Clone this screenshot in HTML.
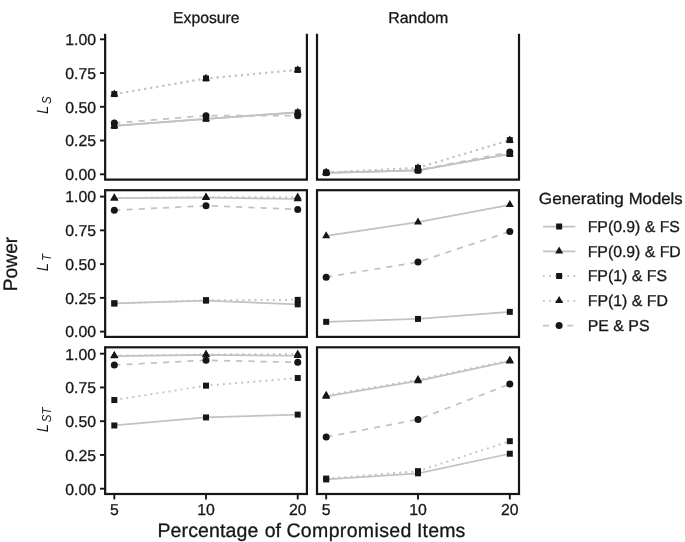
<!DOCTYPE html>
<html lang="en"><head><meta charset="utf-8"><title>Power by Percentage of Compromised Items</title>
<style>html,body{margin:0;padding:0;background:#fff}body{width:685px;height:542px;overflow:hidden}</style></head>
<body>
<svg width="685" height="542" viewBox="0 0 685 542" style="display:block" text-rendering="geometricPrecision">
<rect width="685" height="542" fill="#ffffff"/>
<g fill="none" stroke="#c2c2c2" stroke-width="1.75">
<polyline points="114.32,125.96 206.02,118.80 297.73,112.46"/>
<polyline points="114.32,125.96 206.02,118.80 297.73,112.46"/>
<polyline points="114.32,94.10 206.02,78.44 297.73,69.93" stroke-width="1.9" stroke-dasharray="1.9 4.2"/>
<polyline points="114.32,94.10 206.02,78.44 297.73,69.93" stroke-width="1.9" stroke-dasharray="1.9 4.2"/>
<polyline points="114.32,122.99 206.02,115.70 297.73,115.70" stroke-dasharray="6.1 6.1"/>
</g>
<rect x="111.32" y="122.96" width="6.0" height="6.0" fill="#161616"/>
<rect x="203.02" y="115.80" width="6.0" height="6.0" fill="#161616"/>
<rect x="294.73" y="109.46" width="6.0" height="6.0" fill="#161616"/>
<polygon points="114.32,121.29 118.36,128.29 110.28,128.29" fill="#161616"/>
<polygon points="206.02,114.13 210.07,121.14 201.98,121.14" fill="#161616"/>
<polygon points="297.73,107.79 301.77,114.79 293.69,114.79" fill="#161616"/>
<rect x="111.32" y="91.10" width="6.0" height="6.0" fill="#161616"/>
<rect x="203.02" y="75.44" width="6.0" height="6.0" fill="#161616"/>
<rect x="294.73" y="66.93" width="6.0" height="6.0" fill="#161616"/>
<polygon points="114.32,89.43 118.36,96.43 110.28,96.43" fill="#161616"/>
<polygon points="206.02,73.77 210.07,80.77 201.98,80.77" fill="#161616"/>
<polygon points="297.73,65.26 301.77,72.27 293.69,72.27" fill="#161616"/>
<circle cx="114.32" cy="122.99" r="3.5" fill="#161616"/>
<circle cx="206.02" cy="115.70" r="3.5" fill="#161616"/>
<circle cx="297.73" cy="115.70" r="3.5" fill="#161616"/>
<path d="M105.15,33.85 V179.7 H306.9 V33.85" fill="none" stroke="#161616" stroke-width="2.2"/>
<g fill="none" stroke="#c2c2c2" stroke-width="1.75">
<polyline points="326.18,172.76 418.00,170.47 509.82,154.00"/>
<polyline points="326.18,172.76 418.00,170.47 509.82,154.00"/>
<polyline points="326.18,172.50 418.00,167.91 509.82,140.09" stroke-width="1.9" stroke-dasharray="1.9 4.2"/>
<polyline points="326.18,172.50 418.00,167.91 509.82,140.09" stroke-width="1.9" stroke-dasharray="1.9 4.2"/>
<polyline points="326.18,172.63 418.00,170.20 509.82,152.11" stroke-dasharray="6.1 6.1"/>
</g>
<rect x="323.18" y="169.76" width="6.0" height="6.0" fill="#161616"/>
<rect x="415.00" y="167.47" width="6.0" height="6.0" fill="#161616"/>
<rect x="506.82" y="151.00" width="6.0" height="6.0" fill="#161616"/>
<polygon points="326.18,168.09 330.23,175.10 322.14,175.10" fill="#161616"/>
<polygon points="418.00,165.80 422.04,172.81 413.96,172.81" fill="#161616"/>
<polygon points="509.82,149.33 513.86,156.34 505.77,156.34" fill="#161616"/>
<rect x="323.18" y="169.50" width="6.0" height="6.0" fill="#161616"/>
<rect x="415.00" y="164.91" width="6.0" height="6.0" fill="#161616"/>
<rect x="506.82" y="137.09" width="6.0" height="6.0" fill="#161616"/>
<polygon points="326.18,167.83 330.23,174.83 322.14,174.83" fill="#161616"/>
<polygon points="418.00,163.24 422.04,170.24 413.96,170.24" fill="#161616"/>
<polygon points="509.82,135.43 513.86,142.43 505.77,142.43" fill="#161616"/>
<circle cx="326.18" cy="172.63" r="3.5" fill="#161616"/>
<circle cx="418.00" cy="170.20" r="3.5" fill="#161616"/>
<circle cx="509.82" cy="152.11" r="3.5" fill="#161616"/>
<path d="M317.0,33.85 V179.7 H519.0 V33.85" fill="none" stroke="#161616" stroke-width="2.2"/>
<line x1="99.95" x2="105.15" y1="174.30" y2="174.30" stroke="#161616" stroke-width="1.9"/>
<text x="96.1" y="180.10" font-family="Liberation Sans, Arial, Helvetica, sans-serif" stroke="#1a1a1a" stroke-width="0.3" font-size="15.8" text-anchor="end" fill="#161616" textLength="30.8" lengthAdjust="spacingAndGlyphs">0.00</text>
<line x1="99.95" x2="105.15" y1="140.55" y2="140.55" stroke="#161616" stroke-width="1.9"/>
<text x="96.1" y="146.35" font-family="Liberation Sans, Arial, Helvetica, sans-serif" stroke="#1a1a1a" stroke-width="0.3" font-size="15.8" text-anchor="end" fill="#161616" textLength="30.8" lengthAdjust="spacingAndGlyphs">0.25</text>
<line x1="99.95" x2="105.15" y1="106.80" y2="106.80" stroke="#161616" stroke-width="1.9"/>
<text x="96.1" y="112.60" font-family="Liberation Sans, Arial, Helvetica, sans-serif" stroke="#1a1a1a" stroke-width="0.3" font-size="15.8" text-anchor="end" fill="#161616" textLength="30.8" lengthAdjust="spacingAndGlyphs">0.50</text>
<line x1="99.95" x2="105.15" y1="73.05" y2="73.05" stroke="#161616" stroke-width="1.9"/>
<text x="96.1" y="78.85" font-family="Liberation Sans, Arial, Helvetica, sans-serif" stroke="#1a1a1a" stroke-width="0.3" font-size="15.8" text-anchor="end" fill="#161616" textLength="30.8" lengthAdjust="spacingAndGlyphs">0.75</text>
<line x1="99.95" x2="105.15" y1="39.30" y2="39.30" stroke="#161616" stroke-width="1.9"/>
<text x="96.1" y="45.10" font-family="Liberation Sans, Arial, Helvetica, sans-serif" stroke="#1a1a1a" stroke-width="0.3" font-size="15.8" text-anchor="end" fill="#161616" textLength="30.8" lengthAdjust="spacingAndGlyphs">1.00</text>
<g fill="none" stroke="#c2c2c2" stroke-width="1.75">
<polyline points="114.32,303.39 206.02,300.54 297.73,304.34"/>
<polyline points="114.32,198.16 206.02,197.62 297.73,198.97"/>
<polyline points="114.32,303.39 206.02,300.22 297.73,299.88" stroke-width="1.9" stroke-dasharray="1.9 4.2"/>
<polyline points="114.32,198.16 206.02,197.08 297.73,197.15" stroke-width="1.9" stroke-dasharray="1.9 4.2"/>
<polyline points="114.32,210.31 206.02,205.72 297.73,209.50" stroke-dasharray="6.1 6.1"/>
</g>
<rect x="111.32" y="300.39" width="6.0" height="6.0" fill="#161616"/>
<rect x="203.02" y="297.54" width="6.0" height="6.0" fill="#161616"/>
<rect x="294.73" y="301.34" width="6.0" height="6.0" fill="#161616"/>
<polygon points="114.32,193.49 118.36,200.50 110.28,200.50" fill="#161616"/>
<polygon points="206.02,192.95 210.07,199.96 201.98,199.96" fill="#161616"/>
<polygon points="297.73,194.30 301.77,201.31 293.69,201.31" fill="#161616"/>
<rect x="111.32" y="300.39" width="6.0" height="6.0" fill="#161616"/>
<rect x="203.02" y="297.22" width="6.0" height="6.0" fill="#161616"/>
<rect x="294.73" y="296.88" width="6.0" height="6.0" fill="#161616"/>
<polygon points="114.32,193.49 118.36,200.50 110.28,200.50" fill="#161616"/>
<polygon points="206.02,192.41 210.07,199.42 201.98,199.42" fill="#161616"/>
<polygon points="297.73,192.48 301.77,199.48 293.69,199.48" fill="#161616"/>
<circle cx="114.32" cy="210.31" r="3.5" fill="#161616"/>
<circle cx="206.02" cy="205.72" r="3.5" fill="#161616"/>
<circle cx="297.73" cy="209.50" r="3.5" fill="#161616"/>
<rect x="105.15" y="190.2" width="201.74999999999997" height="146.7" fill="none" stroke="#161616" stroke-width="2.2"/>
<g fill="none" stroke="#c2c2c2" stroke-width="1.75">
<polyline points="326.18,321.82 418.00,318.93 509.82,311.87"/>
<polyline points="326.18,235.83 418.00,222.06 509.82,204.78"/>
<polyline points="326.18,277.18 418.00,262.08 509.82,231.56" stroke-dasharray="6.1 6.1"/>
</g>
<rect x="323.18" y="318.82" width="6.0" height="6.0" fill="#161616"/>
<rect x="415.00" y="315.93" width="6.0" height="6.0" fill="#161616"/>
<rect x="506.82" y="308.87" width="6.0" height="6.0" fill="#161616"/>
<polygon points="326.18,231.16 330.23,238.16 322.14,238.16" fill="#161616"/>
<polygon points="418.00,217.39 422.04,224.39 413.96,224.39" fill="#161616"/>
<polygon points="509.82,200.11 513.86,207.11 505.77,207.11" fill="#161616"/>
<circle cx="326.18" cy="277.18" r="3.5" fill="#161616"/>
<circle cx="418.00" cy="262.08" r="3.5" fill="#161616"/>
<circle cx="509.82" cy="231.56" r="3.5" fill="#161616"/>
<rect x="317.0" y="190.2" width="202.0" height="146.7" fill="none" stroke="#161616" stroke-width="2.2"/>
<line x1="99.95" x2="105.15" y1="331.60" y2="331.60" stroke="#161616" stroke-width="1.9"/>
<text x="96.1" y="337.40" font-family="Liberation Sans, Arial, Helvetica, sans-serif" stroke="#1a1a1a" stroke-width="0.3" font-size="15.8" text-anchor="end" fill="#161616" textLength="30.8" lengthAdjust="spacingAndGlyphs">0.00</text>
<line x1="99.95" x2="105.15" y1="297.85" y2="297.85" stroke="#161616" stroke-width="1.9"/>
<text x="96.1" y="303.65" font-family="Liberation Sans, Arial, Helvetica, sans-serif" stroke="#1a1a1a" stroke-width="0.3" font-size="15.8" text-anchor="end" fill="#161616" textLength="30.8" lengthAdjust="spacingAndGlyphs">0.25</text>
<line x1="99.95" x2="105.15" y1="264.10" y2="264.10" stroke="#161616" stroke-width="1.9"/>
<text x="96.1" y="269.90" font-family="Liberation Sans, Arial, Helvetica, sans-serif" stroke="#1a1a1a" stroke-width="0.3" font-size="15.8" text-anchor="end" fill="#161616" textLength="30.8" lengthAdjust="spacingAndGlyphs">0.50</text>
<line x1="99.95" x2="105.15" y1="230.35" y2="230.35" stroke="#161616" stroke-width="1.9"/>
<text x="96.1" y="236.15" font-family="Liberation Sans, Arial, Helvetica, sans-serif" stroke="#1a1a1a" stroke-width="0.3" font-size="15.8" text-anchor="end" fill="#161616" textLength="30.8" lengthAdjust="spacingAndGlyphs">0.75</text>
<line x1="99.95" x2="105.15" y1="196.60" y2="196.60" stroke="#161616" stroke-width="1.9"/>
<text x="96.1" y="202.40" font-family="Liberation Sans, Arial, Helvetica, sans-serif" stroke="#1a1a1a" stroke-width="0.3" font-size="15.8" text-anchor="end" fill="#161616" textLength="30.8" lengthAdjust="spacingAndGlyphs">1.00</text>
<g fill="none" stroke="#c2c2c2" stroke-width="1.75">
<polyline points="114.32,425.48 206.02,417.44 297.73,414.61"/>
<polyline points="114.32,356.02 206.02,354.86 297.73,355.75"/>
<polyline points="114.32,400.03 206.02,385.64 297.73,378.03" stroke-width="1.9" stroke-dasharray="1.9 4.2"/>
<polyline points="114.32,355.75 206.02,354.40 297.73,354.06" stroke-width="1.9" stroke-dasharray="1.9 4.2"/>
<polyline points="114.32,365.06 206.02,360.26 297.73,362.37" stroke-dasharray="6.1 6.1"/>
</g>
<rect x="111.32" y="422.48" width="6.0" height="6.0" fill="#161616"/>
<rect x="203.02" y="414.44" width="6.0" height="6.0" fill="#161616"/>
<rect x="294.73" y="411.61" width="6.0" height="6.0" fill="#161616"/>
<polygon points="114.32,351.35 118.36,358.35 110.28,358.35" fill="#161616"/>
<polygon points="206.02,350.19 210.07,357.19 201.98,357.19" fill="#161616"/>
<polygon points="297.73,351.08 301.77,358.08 293.69,358.08" fill="#161616"/>
<rect x="111.32" y="397.03" width="6.0" height="6.0" fill="#161616"/>
<rect x="203.02" y="382.64" width="6.0" height="6.0" fill="#161616"/>
<rect x="294.73" y="375.03" width="6.0" height="6.0" fill="#161616"/>
<polygon points="114.32,351.08 118.36,358.08 110.28,358.08" fill="#161616"/>
<polygon points="206.02,349.73 210.07,356.73 201.98,356.73" fill="#161616"/>
<polygon points="297.73,349.39 301.77,356.40 293.69,356.40" fill="#161616"/>
<circle cx="114.32" cy="365.06" r="3.5" fill="#161616"/>
<circle cx="206.02" cy="360.26" r="3.5" fill="#161616"/>
<circle cx="297.73" cy="362.37" r="3.5" fill="#161616"/>
<rect x="105.15" y="347.3" width="201.74999999999997" height="146.7" fill="none" stroke="#161616" stroke-width="2.2"/>
<g fill="none" stroke="#c2c2c2" stroke-width="1.75">
<polyline points="326.18,479.44 418.00,473.31 509.82,453.74"/>
<polyline points="326.18,396.36 418.00,380.97 509.82,361.12"/>
<polyline points="326.18,478.57 418.00,471.15 509.82,441.18" stroke-width="1.9" stroke-dasharray="1.9 4.2"/>
<polyline points="326.18,395.41 418.00,379.75 509.82,360.31" stroke-width="1.9" stroke-dasharray="1.9 4.2"/>
<polyline points="326.18,437.05 418.00,419.44 509.82,384.07" stroke-dasharray="6.1 6.1"/>
</g>
<rect x="323.18" y="476.44" width="6.0" height="6.0" fill="#161616"/>
<rect x="415.00" y="470.31" width="6.0" height="6.0" fill="#161616"/>
<rect x="506.82" y="450.74" width="6.0" height="6.0" fill="#161616"/>
<polygon points="326.18,391.69 330.23,398.69 322.14,398.69" fill="#161616"/>
<polygon points="418.00,376.30 422.04,383.30 413.96,383.30" fill="#161616"/>
<polygon points="509.82,356.45 513.86,363.46 505.77,363.46" fill="#161616"/>
<rect x="323.18" y="475.57" width="6.0" height="6.0" fill="#161616"/>
<rect x="415.00" y="468.15" width="6.0" height="6.0" fill="#161616"/>
<rect x="506.82" y="438.18" width="6.0" height="6.0" fill="#161616"/>
<polygon points="326.18,390.74 330.23,397.75 322.14,397.75" fill="#161616"/>
<polygon points="418.00,375.08 422.04,382.09 413.96,382.09" fill="#161616"/>
<polygon points="509.82,355.64 513.86,362.65 505.77,362.65" fill="#161616"/>
<circle cx="326.18" cy="437.05" r="3.5" fill="#161616"/>
<circle cx="418.00" cy="419.44" r="3.5" fill="#161616"/>
<circle cx="509.82" cy="384.07" r="3.5" fill="#161616"/>
<rect x="317.0" y="347.3" width="202.0" height="146.7" fill="none" stroke="#161616" stroke-width="2.2"/>
<line x1="99.95" x2="105.15" y1="488.70" y2="488.70" stroke="#161616" stroke-width="1.9"/>
<text x="96.1" y="494.50" font-family="Liberation Sans, Arial, Helvetica, sans-serif" stroke="#1a1a1a" stroke-width="0.3" font-size="15.8" text-anchor="end" fill="#161616" textLength="30.8" lengthAdjust="spacingAndGlyphs">0.00</text>
<line x1="99.95" x2="105.15" y1="454.95" y2="454.95" stroke="#161616" stroke-width="1.9"/>
<text x="96.1" y="460.75" font-family="Liberation Sans, Arial, Helvetica, sans-serif" stroke="#1a1a1a" stroke-width="0.3" font-size="15.8" text-anchor="end" fill="#161616" textLength="30.8" lengthAdjust="spacingAndGlyphs">0.25</text>
<line x1="99.95" x2="105.15" y1="421.20" y2="421.20" stroke="#161616" stroke-width="1.9"/>
<text x="96.1" y="427.00" font-family="Liberation Sans, Arial, Helvetica, sans-serif" stroke="#1a1a1a" stroke-width="0.3" font-size="15.8" text-anchor="end" fill="#161616" textLength="30.8" lengthAdjust="spacingAndGlyphs">0.50</text>
<line x1="99.95" x2="105.15" y1="387.45" y2="387.45" stroke="#161616" stroke-width="1.9"/>
<text x="96.1" y="393.25" font-family="Liberation Sans, Arial, Helvetica, sans-serif" stroke="#1a1a1a" stroke-width="0.3" font-size="15.8" text-anchor="end" fill="#161616" textLength="30.8" lengthAdjust="spacingAndGlyphs">0.75</text>
<line x1="99.95" x2="105.15" y1="353.70" y2="353.70" stroke="#161616" stroke-width="1.9"/>
<text x="96.1" y="359.50" font-family="Liberation Sans, Arial, Helvetica, sans-serif" stroke="#1a1a1a" stroke-width="0.3" font-size="15.8" text-anchor="end" fill="#161616" textLength="30.8" lengthAdjust="spacingAndGlyphs">1.00</text>
<line x1="114.32" x2="114.32" y1="494.00" y2="499.40" stroke="#161616" stroke-width="1.9"/>
<text x="114.32" y="515" font-family="Liberation Sans, Arial, Helvetica, sans-serif" stroke="#1a1a1a" stroke-width="0.3" font-size="15.8" text-anchor="middle" fill="#161616">5</text>
<line x1="206.02" x2="206.02" y1="494.00" y2="499.40" stroke="#161616" stroke-width="1.9"/>
<text x="206.02" y="515" font-family="Liberation Sans, Arial, Helvetica, sans-serif" stroke="#1a1a1a" stroke-width="0.3" font-size="15.8" text-anchor="middle" fill="#161616">10</text>
<line x1="297.73" x2="297.73" y1="494.00" y2="499.40" stroke="#161616" stroke-width="1.9"/>
<text x="297.73" y="515" font-family="Liberation Sans, Arial, Helvetica, sans-serif" stroke="#1a1a1a" stroke-width="0.3" font-size="15.8" text-anchor="middle" fill="#161616">20</text>
<line x1="326.18" x2="326.18" y1="494.00" y2="499.40" stroke="#161616" stroke-width="1.9"/>
<text x="326.18" y="515" font-family="Liberation Sans, Arial, Helvetica, sans-serif" stroke="#1a1a1a" stroke-width="0.3" font-size="15.8" text-anchor="middle" fill="#161616">5</text>
<line x1="418.00" x2="418.00" y1="494.00" y2="499.40" stroke="#161616" stroke-width="1.9"/>
<text x="418.00" y="515" font-family="Liberation Sans, Arial, Helvetica, sans-serif" stroke="#1a1a1a" stroke-width="0.3" font-size="15.8" text-anchor="middle" fill="#161616">10</text>
<line x1="509.82" x2="509.82" y1="494.00" y2="499.40" stroke="#161616" stroke-width="1.9"/>
<text x="509.82" y="515" font-family="Liberation Sans, Arial, Helvetica, sans-serif" stroke="#1a1a1a" stroke-width="0.3" font-size="15.8" text-anchor="middle" fill="#161616">20</text>
<text x="206.3" y="22.9" font-family="Liberation Sans, Arial, Helvetica, sans-serif" stroke="#1a1a1a" stroke-width="0.3" font-size="15.6" text-anchor="middle" fill="#161616" textLength="66.5" lengthAdjust="spacingAndGlyphs">Exposure</text>
<text x="418.3" y="22.9" font-family="Liberation Sans, Arial, Helvetica, sans-serif" stroke="#1a1a1a" stroke-width="0.3" font-size="15.6" text-anchor="middle" fill="#161616" textLength="60.2" lengthAdjust="spacingAndGlyphs">Random</text>
<g><text transform="translate(48.0,114.06) rotate(-90) scale(0.92,1)" font-family="Liberation Sans, Arial, Helvetica, sans-serif" font-style="italic" font-size="16.2" fill="#161616">L</text><text transform="translate(51.0,104.12) rotate(-90) scale(0.89,1)" font-family="Liberation Sans, Arial, Helvetica, sans-serif" font-style="italic" font-size="12.9" fill="#161616">S</text></g>
<g><text transform="translate(48.0,271.16) rotate(-90) scale(0.92,1)" font-family="Liberation Sans, Arial, Helvetica, sans-serif" font-style="italic" font-size="16.2" fill="#161616">L</text><text transform="translate(51.0,260.93) rotate(-90) scale(0.89,1)" font-family="Liberation Sans, Arial, Helvetica, sans-serif" font-style="italic" font-size="12.9" fill="#161616">T</text></g>
<g><text transform="translate(48.0,432.36) rotate(-90) scale(0.92,1)" font-family="Liberation Sans, Arial, Helvetica, sans-serif" font-style="italic" font-size="16.2" fill="#161616">L</text><text transform="translate(51.0,422.32) rotate(-90) scale(0.89,1)" font-family="Liberation Sans, Arial, Helvetica, sans-serif" font-style="italic" font-size="12.9" fill="#161616">S</text><text transform="translate(51.0,414.5) rotate(-90) scale(0.89,1)" font-family="Liberation Sans, Arial, Helvetica, sans-serif" font-style="italic" font-size="12.9" fill="#161616">T</text></g>
<text y="537" font-family="Liberation Sans, Arial, Helvetica, sans-serif" stroke="#1a1a1a" stroke-width="0.3" font-size="19.5" fill="#161616"><tspan x="157.4" textLength="101.0" lengthAdjust="spacing">Percentage</tspan> <tspan x="264.75" textLength="16.2" lengthAdjust="spacing">of</tspan> <tspan x="286.4" textLength="124.9" lengthAdjust="spacing">Compromised</tspan> <tspan x="417.0" textLength="48.3" lengthAdjust="spacing">Items</tspan></text>
<text transform="translate(17.4,264.0) rotate(-90)" font-family="Liberation Sans, Arial, Helvetica, sans-serif" stroke="#1a1a1a" stroke-width="0.3" font-size="19.5" text-anchor="middle" fill="#161616" textLength="54.4" lengthAdjust="spacingAndGlyphs">Power</text>
<text y="203.8" font-family="Liberation Sans, Arial, Helvetica, sans-serif" stroke="#1a1a1a" stroke-width="0.3" font-size="16.1" fill="#161616"><tspan x="538.8" textLength="85.1" lengthAdjust="spacingAndGlyphs">Generating</tspan> <tspan x="628.7" textLength="53.9" lengthAdjust="spacingAndGlyphs">Models</tspan></text>
<line x1="542.9" x2="575.3" y1="226.50" y2="226.50" stroke="#c2c2c2" stroke-width="1.75"/>
<rect x="556.15" y="223.50" width="6.0" height="6.0" fill="#161616"/>
<text x="587.7" y="231.85" font-family="Liberation Sans, Arial, Helvetica, sans-serif" stroke="#1a1a1a" stroke-width="0.3" font-size="15.8" fill="#161616" textLength="92.2" lengthAdjust="spacingAndGlyphs">FP(0.9) &amp; FS</text>
<line x1="542.9" x2="575.3" y1="251.25" y2="251.25" stroke="#c2c2c2" stroke-width="1.75"/>
<polygon points="559.15,246.58 563.19,253.59 555.11,253.59" fill="#161616"/>
<text x="587.7" y="256.60" font-family="Liberation Sans, Arial, Helvetica, sans-serif" stroke="#1a1a1a" stroke-width="0.3" font-size="15.8" fill="#161616" textLength="93.1" lengthAdjust="spacingAndGlyphs">FP(0.9) &amp; FD</text>
<line x1="542.9" x2="575.3" y1="276.00" y2="276.00" stroke="#c2c2c2" stroke-width="1.75" stroke-width="1.9" stroke-dasharray="1.9 4.2"/>
<rect x="556.15" y="273.00" width="6.0" height="6.0" fill="#161616"/>
<text x="587.7" y="281.35" font-family="Liberation Sans, Arial, Helvetica, sans-serif" stroke="#1a1a1a" stroke-width="0.3" font-size="15.8" fill="#161616" textLength="79.3" lengthAdjust="spacingAndGlyphs">FP(1) &amp; FS</text>
<line x1="542.9" x2="575.3" y1="300.75" y2="300.75" stroke="#c2c2c2" stroke-width="1.75" stroke-width="1.9" stroke-dasharray="1.9 4.2"/>
<polygon points="559.15,296.08 563.19,303.08 555.11,303.08" fill="#161616"/>
<text x="587.7" y="306.10" font-family="Liberation Sans, Arial, Helvetica, sans-serif" stroke="#1a1a1a" stroke-width="0.3" font-size="15.8" fill="#161616" textLength="80.2" lengthAdjust="spacingAndGlyphs">FP(1) &amp; FD</text>
<line x1="542.9" x2="575.3" y1="325.50" y2="325.50" stroke="#c2c2c2" stroke-width="1.75" stroke-dasharray="6.1 6.1"/>
<circle cx="559.15" cy="325.50" r="3.5" fill="#161616"/>
<text x="587.7" y="330.85" font-family="Liberation Sans, Arial, Helvetica, sans-serif" stroke="#1a1a1a" stroke-width="0.3" font-size="15.8" fill="#161616" textLength="61.9" lengthAdjust="spacingAndGlyphs">PE &amp; PS</text>
</svg>
</body></html>
